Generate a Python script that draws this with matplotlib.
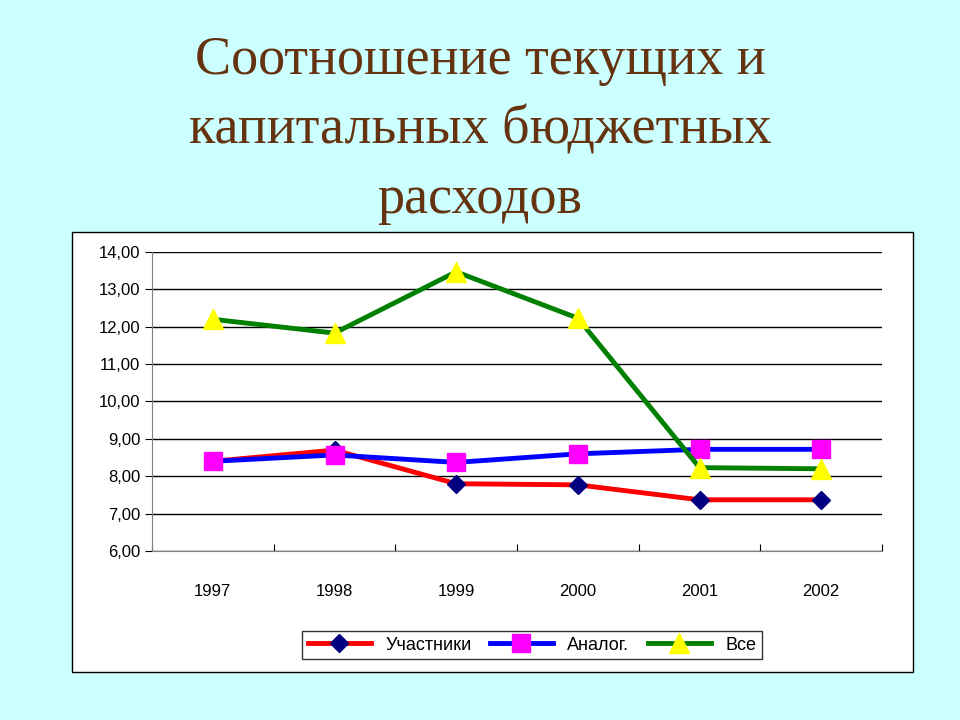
import matplotlib.pyplot as plt
from matplotlib.patches import Rectangle

plt.rcParams['font.family'] = ['Liberation Sans', 'DejaVu Sans']

years = ["1997", "1998", "1999", "2000", "2001", "2002"]
uchastniki = [8.40, 8.70, 7.80, 7.77, 7.37, 7.37]
analog = [8.40, 8.57, 8.37, 8.60, 8.72, 8.72]
vse = [12.20, 11.83, 13.47, 12.23, 8.23, 8.20]

fig = plt.figure(figsize=(9.6, 7.2), dpi=100)
fig.patch.set_facecolor("#CCFFFF")

# white chart box
fig.patches.append(Rectangle((72 / 960, 1 - 672 / 720), 841 / 960, 440 / 720,
                             transform=fig.transFigure, facecolor="white",
                             edgecolor="black", linewidth=1, zorder=-5))

fig.text(0.5, 1 - 130 / 720, "Соотношение текущих и\nкапитальных бюджетных\nрасходов",
         ha="center", va="center", fontsize=39, family="Liberation Serif",
         color="#663311", linespacing=1.5)

ax = fig.add_axes([152 / 960, 1 - 551 / 720, 730 / 960, 299 / 720])
ax.set_zorder(2)
x = range(len(years))
ax.plot(x, uchastniki, color="#FF0000", lw=3.5, marker="D", ms=9,
        mfc="#000080", mec="#000080", label="Участники", zorder=3)
ax.plot(x, analog, color="#0000FF", lw=3.5, marker="s", ms=13,
        mfc="#FF00FF", mec="#FF00FF", label="Аналог.", zorder=4)
ax.plot(x, vse, color="#008000", lw=3.5, marker="^", ms=14,
        mfc="#FFFF00", mec="#FFFF00", label="Все", zorder=5)

ax.set_xlim(-0.5, 5.5)
ax.set_ylim(6, 14)
ax.set_yticks(range(6, 15))
ax.set_yticklabels([f"{v},00" for v in range(6, 15)], fontsize=12)
ax.set_xticks([i + 0.5 for i in range(-1, 6)], minor=False)
ax.set_xticklabels([])
ax.set_xticks(list(x), minor=True)
ax.set_xticklabels(years, minor=True, fontsize=12)
ax.tick_params(axis="x", which="minor", length=0, pad=24)
ax.tick_params(axis="x", which="major", length=5, direction="in")
ax.tick_params(axis="y", length=5, direction="out")
ax.yaxis.grid(True, color="black", lw=1)
ax.set_axisbelow(True)
for s in ["top", "right"]:
    ax.spines[s].set_visible(False)
ax.spines["left"].set_color("#808080")
ax.spines["bottom"].set_color("#808080")

leg = fig.legend(loc="center", bbox_to_anchor=(532 / 960, 1 - 645 / 720), ncol=3,
                 frameon=True, fancybox=False, edgecolor="black", fontsize=13,
                 handlelength=3.5, columnspacing=1.0, borderpad=0.3)
leg.get_frame().set_linewidth(1)
leg.set_zorder(3)

fig.savefig("out.png", dpi=100, facecolor=fig.get_facecolor())
